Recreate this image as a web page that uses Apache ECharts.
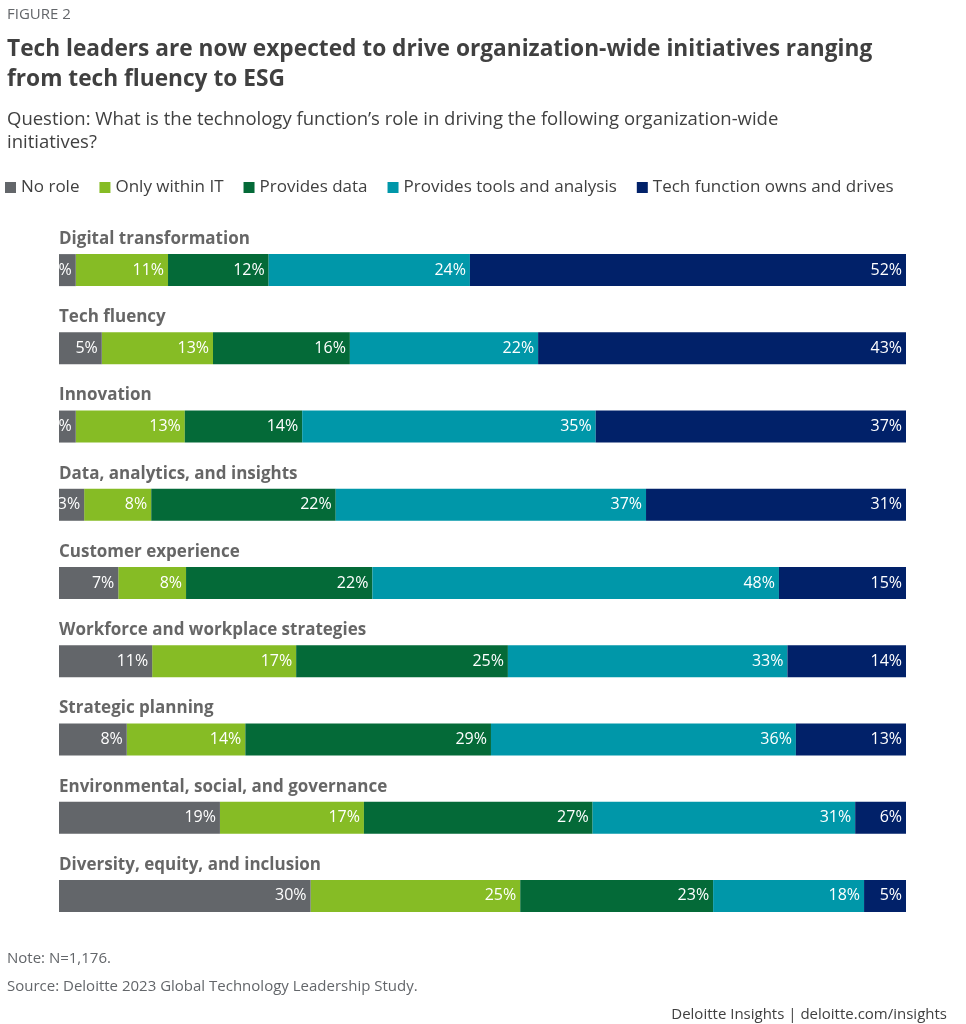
<!DOCTYPE html><html><head><meta charset="utf-8"><script src="https://cdn.jsdelivr.net/npm/echarts@6/dist/echarts.min.js"></script>
<style>body{margin:0}#c{width:966px;height:1024px}</style></head><body><div id="c"></div><script>
const categories=["Digital transformation","Tech fluency","Innovation","Data, analytics, and insights","Customer experience","Workforce and workplace strategies","Strategic planning","Environmental, social, and governance","Diversity, equity, and inclusion"];
const seriesNames=["No role","Only within IT","Provides data","Provides tools and analysis","Tech function owns and drives"];
const noRole=[2,5,2,3,7,11,8,19,30];
const onlyIT=[11,13,13,8,8,17,14,17,25];
const providesData=[12,16,14,22,22,25,29,27,23];
const providesTools=[24,22,35,37,48,33,36,31,18];
const owns=[52,43,37,31,15,14,13,6,5];
const colors=["#63666a","#86bc25","#046a38","#0097a9","#012169"];
const all=[noRole,onlyIT,providesData,providesTools,owns];
const sums=categories.map((_,i)=>all.reduce((s,a)=>s+a[i],0));
const F="Open Sans";
const series=all.map((arr,k)=>({name:seriesNames[k],type:'bar',stack:'s',barWidth:32,z:k===0?3:2,itemStyle:{color:colors[k]},
 data:arr.map((v,i)=>({value:v*100/sums[i],raw:v})),
 label:{show:true,position:'insideRight',distance:4,color:'#fff',fontFamily:F,fontSize:16,formatter:p=>p.data.raw+'%'}}));
series.push({type:'scatter',name:'cat',symbolSize:0,silent:true,data:categories.map(c=>[0,c]),
 label:{show:true,position:'right',distance:0,offset:[0,-31],formatter:p=>p.value[1],fontFamily:F,fontSize:17,fontWeight:'bold',color:'#404040'}});
const ch=echarts.init(document.getElementById('c'));
ch.setOption({animation:false,
 title:[{text:'FIGURE 2',left:2,top:2,textStyle:{fontFamily:F,fontSize:15,fontWeight:'normal',color:'#63666a'}},
 {text:'Tech leaders are now expected to drive organization-wide initiatives ranging\nfrom tech fluency to ESG',left:2,top:30,textStyle:{fontFamily:F,fontSize:22.7,fontWeight:'bold',color:'#404040',lineHeight:30}},
 {text:'Question: What is the technology function’s role in driving the following organization-wide\ninitiatives?',left:2,top:103,textStyle:{fontFamily:F,fontSize:18.5,fontWeight:'normal',color:'#404040',lineHeight:23}},
 {text:'Note: N=1,176.',left:2,top:946,textStyle:{fontFamily:F,fontSize:15,fontWeight:'normal',color:'#63666a'}},
 {text:'Source: Deloitte 2023 Global Technology Leadership Study.',left:2,top:974,textStyle:{fontFamily:F,fontSize:15,fontWeight:'normal',color:'#63666a'}},
 {text:'Deloitte Insights | deloitte.com/insights',right:14,top:1002,textStyle:{fontFamily:F,fontSize:15,fontWeight:'normal',color:'#404040'}}],
 legend:{left:0,top:174,itemWidth:11,itemHeight:11,itemGap:20,icon:'rect',data:seriesNames,textStyle:{fontFamily:F,fontSize:17,color:'#404040'}},
 grid:{left:59,right:60,top:231,bottom:89},
 xAxis:{type:'value',min:0,max:100,show:false},
 yAxis:{type:'category',inverse:true,data:categories,show:false},
 series});
</script></body></html>
